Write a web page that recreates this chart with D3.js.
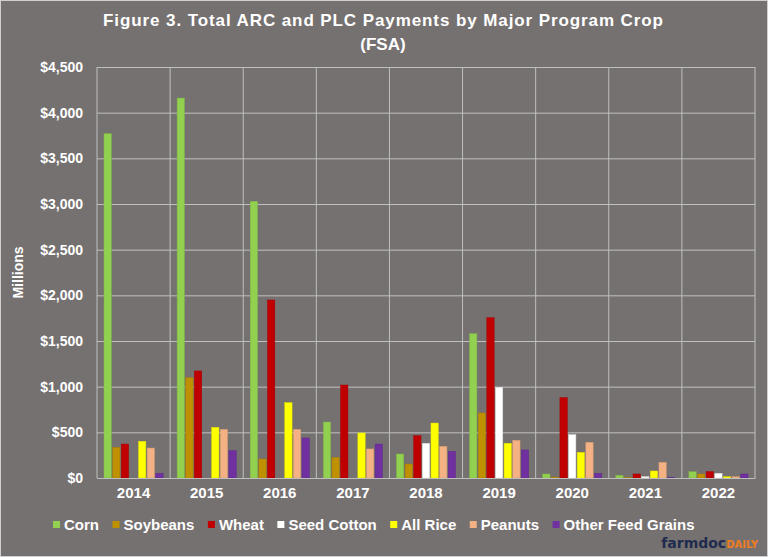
<!DOCTYPE html>
<html>
<head>
<meta charset="utf-8">
<script src="https://cdn.jsdelivr.net/npm/d3@7"></script>
<style>
  body { margin: 0; background: #767171; }
  svg { display: block; font-family: "Liberation Sans", Arial, sans-serif; }
</style>
</head>
<body>
<div id="chart"></div>
<script>
const years = ["2014", "2015", "2016", "2017", "2018", "2019", "2020", "2021", "2022"]
const crops = ["Corn", "Soybeans", "Wheat", "Seed Cotton", "All Rice", "Peanuts", "Other Feed Grains"]
const crop_colors = ["#92D050", "#BF9000", "#C00000", "#FFFFFF", "#FFFF00", "#F4B183", "#7030A0"]

// millions of dollars, one array per crop
const corn        = [3770, 4160, 3030, 613, 263, 1580, 44, 29, 69]
const soybeans    = [336, 1098, 208, 226, 153, 712, 10, 5, 44]
const wheat       = [372, 1172, 1949, 1018, 463, 1755, 880, 44, 69]
const seed_cotton = [0, 0, 0, 0, 380, 993, 475, 14, 51]
const all_rice    = [402, 555, 825, 493, 602, 380, 281, 77, 14]
const peanuts     = [328, 533, 533, 318, 347, 413, 391, 172, 14]
const other_feed  = [51, 299, 438, 372, 292, 307, 51, 5, 44]
const y_ticks = [0, 500, 1000, 1500, 2000, 2500, 3000, 3500, 4000, 4500]

const series = [corn, soybeans, wheat, seed_cotton, all_rice, peanuts, other_feed]

const W = 768, H = 557
const margin = {top: 67, right: 13, bottom: 79, left: 97}
const width = W - margin.left - margin.right,
    height = H - margin.top - margin.bottom

const svg = d3.select("#chart").append("svg")
    .attr("width", W)
    .attr("height", H)

svg.append("rect")
    .attr("x", 0.5).attr("y", 0.5)
    .attr("width", W - 1).attr("height", H - 1)
    .attr("fill", "#767171")
    .attr("stroke", "#d0cece")

// title
const title = svg.append("text")
    .attr("text-anchor", "middle")
    .attr("fill", "#ffffff")
    .attr("font-weight", "bold")
    .attr("font-size", 17)
title.append("tspan").attr("x", 383).attr("y", 26)
    .attr("textLength", 560)
    .attr("lengthAdjust", "spacing")
    .text("Figure  3. Total ARC and PLC Payments by Major Program Crop")
title.append("tspan").attr("x", 383).attr("y", 50)
    .text("(FSA)")

const g = svg.append("g")
    .attr("transform", "translate(" + margin.left + "," + margin.top + ")")

const x0 = d3.scaleBand()
    .domain(years)
    .range([0, width])
    .padding(0)

const bw = x0.bandwidth()
const x1 = d3.scaleBand()
    .domain(crops)
    .range([7, bw - 7])
    .paddingInner(0.15)

const y = d3.scaleLinear()
    .domain([0, 4500])
    .range([height, 0])

// horizontal gridlines + y labels
g.append("g")
    .attr("class", "yaxis")
    .call(d3.axisLeft(y)
        .tickValues(y_ticks)
        .tickFormat(d3.format("$,"))
        .tickSizeInner(-width)
        .tickSizeOuter(0)
        .tickPadding(14)
    )
g.select(".yaxis .domain").remove()
g.selectAll(".yaxis line").attr("stroke", "#bfbfbf")
g.selectAll(".yaxis text")
    .attr("fill", "#ffffff")
    .attr("font-size", 14)
    .attr("font-weight", "bold")
    .attr("font-family", "Liberation Sans, Arial, sans-serif")

// vertical gridlines at category edges
const edges = years.map(d => x0(d)).concat([width])
g.selectAll(".vgrid")
    .data(edges)
    .enter()
    .append("line")
    .attr("class", "vgrid")
    .attr("x1", d => d).attr("x2", d => d)
    .attr("y1", 0).attr("y2", height)
    .attr("stroke", "#bfbfbf")

// bars
const groups = g.selectAll(".year")
    .data(years)
    .enter()
    .append("g")
    .attr("transform", d => "translate(" + x0(d) + ",0)")

groups.selectAll("rect")
    .data((yr, i) => crops.map((c, k) => ({crop: c, value: series[k][i], color: crop_colors[k]})))
    .enter()
    .append("rect")
    .attr("x", d => x1(d.crop))
    .attr("width", x1.bandwidth())
    .attr("y", d => y(d.value))
    .attr("height", d => height - y(d.value))
    .attr("fill", d => d.color)
    .attr("stroke", d => d3.color(d.color).darker(0.4))
    .attr("stroke-width", 0.5)

// x axis
g.append("g")
    .attr("class", "xaxis")
    .attr("transform", "translate(0," + height + ")")
    .call(d3.axisBottom(x0)
        .tickSize(0)
        .tickPadding(9)
    )
g.select(".xaxis .domain").attr("stroke", "#bfbfbf")
g.selectAll(".xaxis text")
    .attr("fill", "#ffffff")
    .attr("font-size", 15)
    .attr("font-weight", "bold")
    .attr("font-family", "Liberation Sans, Arial, sans-serif")

// y axis title
svg.append("text")
    .attr("transform", "translate(23," + (margin.top + height / 2) + ") rotate(-90)")
    .attr("text-anchor", "middle")
    .attr("fill", "#ffffff")
    .attr("font-size", 14)
    .attr("font-weight", "bold")
    .text("Millions")

// legend
const legend = svg.append("g")
let lx = 53
crops.forEach((c, k) => {
    legend.append("rect")
        .attr("x", lx).attr("y", 521)
        .attr("width", 7).attr("height", 7)
        .attr("fill", crop_colors[k])
    const t = legend.append("text")
        .attr("x", lx + 11).attr("y", 530)
        .attr("fill", "#ffffff")
        .attr("font-size", 15)
        .attr("font-weight", "bold")
        .text(c)
    lx += 11 + t.node().getComputedTextLength() + 13.5
})

// farmdoc daily mark
const logo = svg.append("text")
    .attr("x", 758).attr("y", 548)
    .attr("text-anchor", "end")
    .attr("font-family", "Verdana, DejaVu Sans, sans-serif")
    .attr("font-weight", "bold")
logo.append("tspan").attr("fill", "#1f2b4d").attr("font-size", 14).text("farmdoc")
logo.append("tspan").attr("fill", "#f07c1e").attr("font-size", 10).text("DAILY")
</script>
</body>
</html>
